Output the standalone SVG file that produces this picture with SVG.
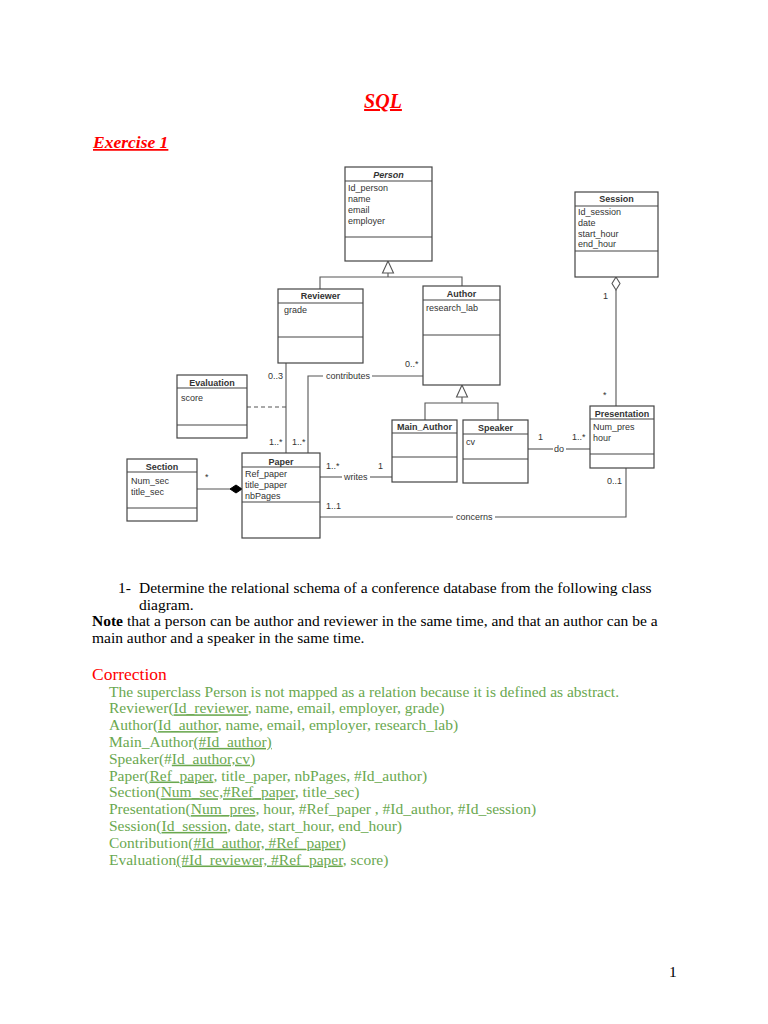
<svg xmlns="http://www.w3.org/2000/svg" width="768" height="1024" viewBox="0 0 768 1024">
<style>
.bx{fill:#fff;stroke:#444;stroke-width:1.2}
.sp{stroke:#444;stroke-width:1.2;fill:none}
.ln{stroke:#555;stroke-width:1.1;fill:none}
.t{font-family:"Liberation Sans",Arial,sans-serif;font-size:9px;fill:#333}
.h{font-weight:bold;text-anchor:middle}
.tr{font-family:"Liberation Serif","Times New Roman",serif;font-size:15.5px;fill:#000}
.g{font-family:"Liberation Serif","Times New Roman",serif;font-size:15.5px;fill:#6aa84f}
.u{text-decoration:underline}
.red{font-family:"Liberation Serif","Times New Roman",serif;fill:#ff0000}
</style>
<rect width="768" height="1024" fill="#fff"/>
<text class="red" x="383" y="108" font-size="20" font-weight="bold" font-style="italic" text-anchor="middle" text-decoration="underline">SQL</text>
<text class="red" x="93" y="148" font-size="17.5" font-weight="bold" font-style="italic" text-decoration="underline">Exercise 1</text>

<g id="connectors">
  <polyline class="ln" points="320,289 320,277 462,277 462,286"/>
  <line class="ln" x1="388" y1="273" x2="388" y2="277"/>
  <polygon points="388,261 382.5,273 393.5,273" fill="#fff" stroke="#555" stroke-width="1.1"/>
  <polyline class="ln" points="425,420 425,403 498,403 498,420"/>
  <line class="ln" x1="462" y1="397" x2="462" y2="403"/>
  <polygon points="462,385 456.5,397 467.5,397" fill="#fff" stroke="#555" stroke-width="1.1"/>
  <line class="ln" x1="286" y1="363" x2="286" y2="453"/>
  <text class="t" x="268" y="379">0..3</text>
  <text class="t" x="269" y="445">1..*</text>
  <line class="ln" x1="247" y1="407" x2="286" y2="407" stroke-dasharray="4,3"/>
  <polyline class="ln" points="308,453 308,376 323,376"/>
  <line class="ln" x1="372" y1="376" x2="423" y2="376"/>
  <text class="t" x="326" y="379">contributes</text>
  <text class="t" x="405" y="367">0..*</text>
  <text class="t" x="292" y="445">1..*</text>
  <line class="ln" x1="320" y1="477" x2="342" y2="477"/>
  <line class="ln" x1="370" y1="477" x2="392" y2="477"/>
  <text class="t" x="344" y="480">writes</text>
  <text class="t" x="326" y="469">1..*</text>
  <text class="t" x="378" y="469">1</text>
  <polyline class="ln" points="320,517 453,517"/>
  <polyline class="ln" points="495,517 626,517 626,468"/>
  <text class="t" x="456" y="520">concerns</text>
  <text class="t" x="326" y="509">1..1</text>
  <text class="t" x="607" y="484">0..1</text>
  <line class="ln" x1="528" y1="449" x2="553" y2="449"/>
  <line class="ln" x1="566" y1="449" x2="590" y2="449"/>
  <text class="t" x="554" y="452">do</text>
  <text class="t" x="538" y="440">1</text>
  <text class="t" x="572" y="440">1..*</text>
  <line class="ln" x1="197" y1="489" x2="230" y2="489"/>
  <polygon points="230,489 236,485 242,489 236,493" fill="#000" stroke="#000" stroke-width="1"/>
  <text class="t" x="205" y="480">*</text>
  <line class="ln" x1="616" y1="290" x2="616" y2="406"/>
  <polygon points="616,277 620,283.5 616,290 612,283.5" fill="#fff" stroke="#555" stroke-width="1.1"/>
  <text class="t" x="603" y="299">1</text>
  <text class="t" x="603" y="398">*</text>
</g>

<g id="person">
  <rect class="bx" x="345" y="167" width="87" height="94"/>
  <line class="sp" x1="345" y1="181" x2="432" y2="181"/>
  <line class="sp" x1="345" y1="237" x2="432" y2="237"/>
  <text class="t h" x="388.5" y="177.5" font-style="italic">Person</text>
  <text class="t" x="348" y="190.5">Id_person</text>
  <text class="t" x="348" y="201.5">name</text>
  <text class="t" x="348" y="212.5">email</text>
  <text class="t" x="348" y="223.5">employer</text>
</g>
<g id="session">
  <rect class="bx" x="575" y="192" width="83" height="85"/>
  <line class="sp" x1="575" y1="206" x2="658" y2="206"/>
  <line class="sp" x1="575" y1="251" x2="658" y2="251"/>
  <text class="t h" x="616.5" y="202">Session</text>
  <text class="t" x="578" y="215">Id_session</text>
  <text class="t" x="578" y="226">date</text>
  <text class="t" x="578" y="236.5">start_hour</text>
  <text class="t" x="578" y="247">end_hour</text>
</g>
<g id="reviewer">
  <rect class="bx" x="278" y="289" width="85" height="74"/>
  <line class="sp" x1="278" y1="303" x2="363" y2="303"/>
  <line class="sp" x1="278" y1="337" x2="363" y2="337"/>
  <text class="t h" x="320.5" y="299">Reviewer</text>
  <text class="t" x="284" y="312.5">grade</text>
</g>
<g id="author">
  <rect class="bx" x="423" y="286" width="77" height="99"/>
  <line class="sp" x1="423" y1="300" x2="500" y2="300"/>
  <line class="sp" x1="423" y1="335" x2="500" y2="335"/>
  <text class="t h" x="461.5" y="296.5">Author</text>
  <text class="t" x="426" y="310.5">research_lab</text>
</g>
<g id="evaluation">
  <rect class="bx" x="177" y="375" width="70" height="63"/>
  <line class="sp" x1="177" y1="388" x2="247" y2="388"/>
  <line class="sp" x1="177" y1="425" x2="247" y2="425"/>
  <text class="t h" x="212" y="385.5">Evaluation</text>
  <text class="t" x="181" y="400.5">score</text>
</g>
<g id="section">
  <rect class="bx" x="127" y="459" width="70" height="62"/>
  <line class="sp" x1="127" y1="472" x2="197" y2="472"/>
  <line class="sp" x1="127" y1="508" x2="197" y2="508"/>
  <text class="t h" x="162" y="469.5">Section</text>
  <text class="t" x="131" y="483.5">Num_sec</text>
  <text class="t" x="131" y="494.5">title_sec</text>
</g>
<g id="paper">
  <rect class="bx" x="242" y="453" width="78" height="85"/>
  <line class="sp" x1="242" y1="467" x2="320" y2="467"/>
  <line class="sp" x1="242" y1="502" x2="320" y2="502"/>
  <text class="t h" x="281" y="464.5">Paper</text>
  <text class="t" x="245" y="476.5">Ref_paper</text>
  <text class="t" x="245" y="487.5">title_paper</text>
  <text class="t" x="245" y="499">nbPages</text>
</g>
<g id="main_author">
  <rect class="bx" x="392" y="420" width="65" height="62"/>
  <line class="sp" x1="392" y1="433" x2="457" y2="433"/>
  <line class="sp" x1="392" y1="457" x2="457" y2="457"/>
  <text class="t h" x="424.5" y="429.5">Main_Author</text>
</g>
<g id="speaker">
  <rect class="bx" x="463" y="420" width="65" height="63"/>
  <line class="sp" x1="463" y1="434" x2="528" y2="434"/>
  <line class="sp" x1="463" y1="459" x2="528" y2="459"/>
  <text class="t h" x="495.5" y="430.5">Speaker</text>
  <text class="t" x="466" y="445">cv</text>
</g>
<g id="presentation">
  <rect class="bx" x="590" y="406" width="64" height="62"/>
  <line class="sp" x1="590" y1="419" x2="654" y2="419"/>
  <line class="sp" x1="590" y1="454" x2="654" y2="454"/>
  <text class="t h" x="622" y="416.5">Presentation</text>
  <text class="t" x="593" y="429.5">Num_pres</text>
  <text class="t" x="593" y="440.5">hour</text>
</g>

<text class="tr" x="118" y="593">1-</text>
<text class="tr" x="139" y="593">Determine the relational schema of a conference database from the following class</text>
<text class="tr" x="139" y="609.5">diagram.</text>
<text class="tr" x="92" y="626"><tspan font-weight="bold">Note</tspan> that a person can be author and reviewer in the same time, and that an author can be a</text>
<text class="tr" x="92" y="643">main author and a speaker in the same time.</text>

<text class="red" x="92" y="680" font-size="17.5">Correction</text>
<text class="g" x="109" y="696.5">The superclass Person is not mapped as a relation because it is defined as abstract.</text>
<text class="g" x="109" y="713.3">Reviewer(<tspan class="u">Id_reviewer</tspan>, name, email, employer, grade)</text>
<text class="g" x="109" y="730.1">Author(<tspan class="u">Id_author</tspan>, name, email, employer, research_lab)</text>
<text class="g" x="109" y="746.9">Main_Author<tspan class="u">(#Id_author)</tspan></text>
<text class="g" x="109" y="763.7">Speaker(#<tspan class="u">Id_author,cv</tspan>)</text>
<text class="g" x="109" y="780.5">Paper(<tspan class="u">Ref_paper</tspan>, title_paper, nbPages, #Id_author)</text>
<text class="g" x="109" y="797.3">Section(<tspan class="u">Num_sec,#Ref_paper</tspan>, title_sec)</text>
<text class="g" x="109" y="814.1">Presentation(<tspan class="u">Num_pres</tspan>, hour, #Ref_paper , #Id_author, #Id_session)</text>
<text class="g" x="109" y="830.9">Session(<tspan class="u">Id_session</tspan>, date, start_hour, end_hour)</text>
<text class="g" x="109" y="847.7">Contribution(<tspan class="u">#Id_author, #Ref_paper</tspan>)</text>
<text class="g" x="109" y="864.5">Evaluation<tspan class="u">(#Id_reviewer, #Ref_paper</tspan>, score)</text>

<text class="tr" x="669" y="977" font-size="13">1</text>
</svg>
